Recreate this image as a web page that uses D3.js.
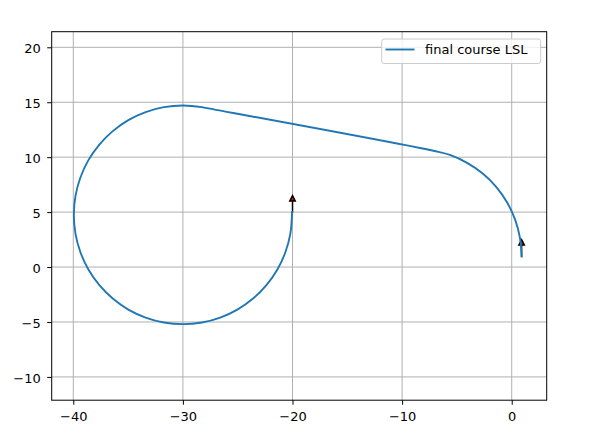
<!DOCTYPE html>
<html>
<head>
<meta charset="utf-8">
<script src="https://cdn.jsdelivr.net/npm/d3@7"></script>
<style>
  html, body { margin: 0; padding: 0; background: #ffffff; }
  svg { display: block; font-family: "DejaVu Sans", sans-serif; }
</style>
</head>
<body>
<svg id="chart" width="593" height="437"></svg>
<script>
// ---- data ----
const pathX = [-20.05, -20.05, -20.20, -20.65, -21.38, -22.38, -23.60, -25.03, -26.60, -28.27, -30.00,
  -31.73, -33.40, -34.98, -36.40, -37.62, -38.62, -39.35, -39.80, -39.95, -39.80, -39.35, -38.62,
  -37.62, -36.40, -34.98, -33.40, -31.73, -30.00, -28.27, -28.17,
  -7.14, -5.58, -4.03, -2.62, -1.40, -0.42, 0.31, 0.75, 0.90];
const pathY = [5.00, 4.75, 3.02, 1.35, -0.23, -1.65, -2.87, -3.87, -4.60, -5.05, -5.20,
  -5.05, -4.60, -3.87, -2.87, -1.65, -0.23, 1.35, 3.02, 4.75, 6.48, 8.15, 9.73,
  11.15, 12.37, 13.37, 14.10, 14.55, 14.70, 14.55, 14.53,
  10.58, 10.19, 9.46, 8.49, 7.28, 5.88, 4.32, 2.66, 0.95];
const arrowX = [-20.0, 0.9];      // start, goal
const arrowY = [5.0, 1.0];
const arrowYawDeg = [90, 90];
const arrowLength = 1.0;
const arrowHeadSize = 0.5;
const xTicks = [-40, -30, -20, -10, 0];
const yTicks = [-10, -5, 0, 5, 10, 15, 20];
const xDomain = [-41.97, 3.19];
const yDomain = [-12.12, 21.42];
const seriesLabel = "final course LSL";

// ---- layout ----
const svg = d3.select("#chart");
const L = 51.7, R = 546.7, T = 31.7, B = 400.2;
const x = d3.scaleLinear().domain(xDomain).range([L, R]);
const y = d3.scaleLinear().domain(yDomain).range([B, T]);
const blue = "#1f77b4";
const fontSize = 13;

svg.append("rect").attr("x", 0).attr("y", 0).attr("width", 593).attr("height", 437).attr("fill", "#fff");

// grid
const grid = svg.append("g");
grid.selectAll(".gx").data(xTicks).join("line")
  .attr("x1", d => x(d)).attr("x2", d => x(d)).attr("y1", T).attr("y2", B)
  .attr("stroke", "#b0b0b0").attr("stroke-width", 1);
grid.selectAll(".gy").data(yTicks).join("line")
  .attr("y1", d => y(d)).attr("y2", d => y(d)).attr("x1", L).attr("x2", R)
  .attr("stroke", "#b0b0b0").attr("stroke-width", 1);

svg.append("clipPath").attr("id", "clip").append("rect")
  .attr("x", L).attr("y", T).attr("width", R - L).attr("height", B - T);
const plot = svg.append("g").attr("clip-path", "url(#clip)");

// arrows (drawn beneath the line, as in the reference)
const arrows = arrowX.map((ax, i) => {
  const a = arrowYawDeg[i] * Math.PI / 180;
  const c = Math.cos(a), s = Math.sin(a);
  const nx = -s, ny = c;
  const hw = 0.0005, hh = arrowHeadSize / 2;
  const ay = arrowY[i];
  const pt = (along, side) => [ax + c * along + nx * side, ay + s * along + ny * side];
  return [
    pt(0, hw), pt(arrowLength, hw), pt(arrowLength, hh), pt(arrowLength + arrowHeadSize, 0),
    pt(arrowLength, -hh), pt(arrowLength, -hw), pt(0, -hw)
  ];
});
plot.selectAll(".arrow").data(arrows).join("path")
  .attr("d", d => d3.line().x(p => x(p[0])).y(p => y(p[1]))(d) + "Z")
  .attr("fill", "red").attr("stroke", "#000").attr("stroke-width", 1.5)
  .attr("stroke-linejoin", "miter");

// path line
const pts = pathX.map((v, i) => [v, pathY[i]]);
plot.append("path")
  .attr("d", d3.line().x(p => x(p[0])).y(p => y(p[1])).curve(d3.curveCatmullRom.alpha(0.5))(pts))
  .attr("fill", "none").attr("stroke", blue).attr("stroke-width", 1.9)
  .attr("stroke-linecap", "square").attr("stroke-linejoin", "round");

// axes
const xAxis = d3.axisBottom(x).tickValues(xTicks).tickSize(4.5).tickPadding(4.5).tickSizeOuter(0);
const gx = svg.append("g").attr("transform", `translate(0,${B})`).call(xAxis);
gx.select(".domain").remove();
gx.selectAll("line").attr("stroke", "#000").attr("stroke-width", 1);
gx.selectAll("text").attr("y", 21).attr("dy", "0").attr("font-size", fontSize)
  .attr("font-family", "DejaVu Sans").attr("fill", "#000");

const yAxis = d3.axisLeft(y).tickValues(yTicks).tickSize(4.5).tickPadding(4.5).tickSizeOuter(0);
const gy = svg.append("g").attr("transform", `translate(${L},0)`).call(yAxis);
gy.select(".domain").remove();
gy.selectAll("line").attr("stroke", "#000").attr("stroke-width", 1);
gy.selectAll("text").attr("x", -11).attr("dy", "0.41em").attr("font-size", fontSize)
  .attr("font-family", "DejaVu Sans").attr("fill", "#000");

// frame
svg.append("rect").attr("x", L).attr("y", T).attr("width", R - L).attr("height", B - T)
  .attr("fill", "none").attr("stroke", "#000").attr("stroke-width", 1);

// legend
const lg = svg.append("g");
lg.append("rect").attr("x", 381.7).attr("y", 39).attr("width", 159).attr("height", 24.5)
  .attr("rx", 2.5).attr("fill", "#fff").attr("fill-opacity", 0.8)
  .attr("stroke", "#cccccc").attr("stroke-width", 1);
lg.append("line").attr("x1", 385.5).attr("x2", 414.5).attr("y1", 49.5).attr("y2", 49.5)
  .attr("stroke", blue).attr("stroke-width", 1.9);
lg.append("text").attr("x", 425).attr("y", 54).attr("font-size", fontSize)
  .attr("font-family", "DejaVu Sans").attr("fill", "#000").text(seriesLabel);
</script>
</body>
</html>
